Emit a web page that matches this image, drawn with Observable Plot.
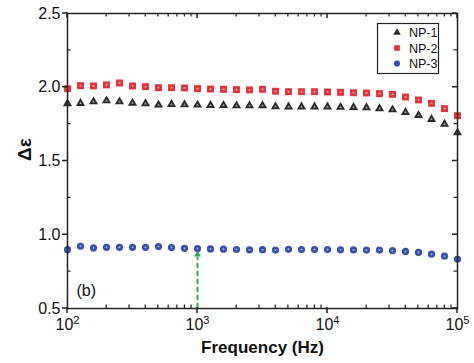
<!DOCTYPE html>
<html><head><meta charset="utf-8">
<script src="https://cdn.jsdelivr.net/npm/d3@7"></script>
<script src="https://cdn.jsdelivr.net/npm/@observablehq/plot@0.6"></script>
<style>
body{margin:0;background:#fff}
svg{font-family:"Liberation Sans",Arial,sans-serif}
</style>
</head><body><div id="chart"></div>
<script>
const frequencies = [100,125.9,158.5,199.5,251.2,316.2,398.1,501.2,631,794.3,1000,1259,1585,1995,2512,3162,3981,5012,6310,7943,10000,12589,15849,19953,25119,31623,39811,50119,63096,79433,100000];
const np1 = [1.889,1.891,1.902,1.909,1.902,1.893,1.889,1.880,1.884,1.882,1.880,1.878,1.878,1.875,1.875,1.876,1.869,1.867,1.867,1.867,1.867,1.865,1.864,1.862,1.855,1.848,1.830,1.810,1.783,1.750,1.692];
const np2 = [1.990,2.011,2.009,2.016,2.029,2.009,2.004,1.997,1.997,1.995,1.991,1.988,1.986,1.984,1.982,1.986,1.973,1.970,1.970,1.970,1.968,1.966,1.963,1.961,1.957,1.952,1.934,1.914,1.891,1.855,1.807];
const np3 = [0.899,0.922,0.911,0.915,0.915,0.915,0.915,0.920,0.913,0.908,0.906,0.904,0.902,0.900,0.898,0.899,0.896,0.901,0.900,0.900,0.900,0.898,0.897,0.896,0.896,0.892,0.887,0.880,0.868,0.855,0.834];
const seriesNames = ["NP-1","NP-2","NP-3"];
const seriesColors = ["#2b2b2b","#e8303c","#3a50a6"];
const seriesSymbols = ["triangle","square","circle"];
const xMajorTicks = [100,1000,10000,100000];
const xMinorTicks = [200,300,400,500,600,700,800,900,2000,3000,4000,5000,6000,7000,8000,9000,20000,30000,40000,50000,60000,70000,80000,90000];
const yMajorTicks = [0.5,1.0,1.5,2.0,2.5];
const yMinorTicks = [0.75,1.25,1.75,2.25];
const markerFreq = 1000;
const markerTop = 0.866;
const panelLabel = "(b)";
const xTitle = "Frequency (Hz)";
const yTitle = "Δε";

(function () {
const W = 474, H = 363, mL = 67, mR = 17, mT = 13, mB = 55;

const seriesValues = [np1, np2, np3];
const sizes = [3.4, 3.9, 3.6];
const axisStroke = "#222";

const dotMarks = seriesValues.flatMap((vals, s) => {
  const rows = frequencies.map((f, i) => ({f, v: vals[i]}));
  return [
    Plot.dot(rows, {x: "f", y: "v", symbol: seriesSymbols[s], r: sizes[s], fill: seriesColors[s]}),
    Plot.dot(rows, {x: "f", y: "v", symbol: seriesSymbols[s], r: 1, fill: "#fff", fillOpacity: 0.55})
  ];
});

const plot = Plot.plot({
  width: W, height: H,
  marginLeft: mL, marginRight: mR, marginTop: mT, marginBottom: mB,
  style: {fontFamily: "Liberation Sans, Arial, sans-serif", fontSize: "16px", color: "#111", background: "#fff"},
  x: {type: "log", domain: [100, 1e5]},
  y: {domain: [0.5, 2.5]},
  marks: [
    Plot.ruleX([markerFreq], {y1: 0.5, y2: markerTop - 0.02, stroke: "#2fb24c", strokeWidth: 2, strokeDasharray: "5,3"}),
    Plot.dot([markerFreq], {x: d => d, y: () => markerTop, symbol: "triangle", r: 2.6, fill: "#2fb24c"}),
    ...dotMarks,
    Plot.frame({stroke: axisStroke, strokeWidth: 1.5}),
    Plot.axisX({anchor: "bottom", ticks: xMajorTicks, tickSize: 0, tickPadding: 10, fontSize: 16, label: null,
      tickFormat: d => String(Math.round(Math.log10(d)))}),
    Plot.axisY({anchor: "left", ticks: yMajorTicks, tickSize: 0, tickPadding: 7, fontSize: 16, label: null,
      tickFormat: d3.format(".1f")}),
    Plot.text([xTitle], {frameAnchor: "bottom", dy: 44, fontSize: 17, fontWeight: "bold", fill: "#111"}),
    Plot.text([yTitle], {frameAnchor: "left", dx: -43, rotate: -90, fontSize: 19, fontWeight: "bold", fill: "#111"}),
    Plot.text([panelLabel], {frameAnchor: "bottom-left", dx: 9, dy: -13, textAnchor: "start", fontSize: 16, fill: "#111"})
  ]
});

const svg = d3.select(plot);

// tick marks placed with the plot's own scales
const xScale = plot.scale("x"), yScale = plot.scale("y");
const yBottom = H - mB, yTop = mT, xLeft = mL, xRight = W - mR;
const tg = svg.append("g").attr("stroke", axisStroke).attr("fill", "none");
const seg = (x1, y1, x2, y2, w) => tg.append("line").attr("x1", x1).attr("y1", y1).attr("x2", x2).attr("y2", y2).attr("stroke-width", w);
xMajorTicks.forEach(d => { const px = xScale.apply(d); seg(px, yBottom - 1, px, yBottom + 5, 1.5); seg(px, yTop, px, yTop + 5, 1.5); });
xMinorTicks.forEach(d => { const px = xScale.apply(d); seg(px, yBottom, px, yBottom - 3.5, 1.2); seg(px, yTop, px, yTop + 3.5, 1.2); });
yMajorTicks.forEach(d => { const py = yScale.apply(d); seg(xLeft + 1, py, xLeft - 5, py, 1.5); seg(xRight, py, xRight - 5, py, 1.5); });
yMinorTicks.forEach(d => { const py = yScale.apply(d); seg(xLeft, py, xLeft + 3.5, py, 1.2); seg(xRight, py, xRight - 3.5, py, 1.2); });

// superscript exponents on the x tick labels
svg.selectAll('g[aria-label="x-axis tick label"] text').each(function() {
  const t = d3.select(this);
  const e = t.text();
  t.text("10");
  t.append("tspan").attr("dy", "-0.55em").attr("font-size", "11px").text(e);
});

// legend
const lg = svg.append("g").attr("font-family", "Liberation Sans, Arial, sans-serif").attr("text-anchor", "start");
lg.append("rect").attr("x", 377.5).attr("y", 23.5).attr("width", 61).attr("height", 50)
  .attr("fill", "#fff").attr("stroke", "#222").attr("stroke-width", 1.2);
const lsizes = [2.8, 3.2, 3.1];
seriesNames.forEach((name, i) => {
  const cy = 32.5 + i * 15.5;
  const area = Math.PI * lsizes[i] * lsizes[i];
  const sym = [d3.symbolTriangle, d3.symbolSquare, d3.symbolCircle][i];
  lg.append("path").attr("transform", `translate(397,${cy})`).attr("d", d3.symbol(sym, area)()).attr("fill", seriesColors[i]);
  lg.append("text").attr("x", 409).attr("y", cy).attr("dy", "0.36em").attr("font-size", 12.5).attr("fill", "#111").text(name);
});

document.getElementById("chart").appendChild(plot);
})();
</script>
</body></html>
